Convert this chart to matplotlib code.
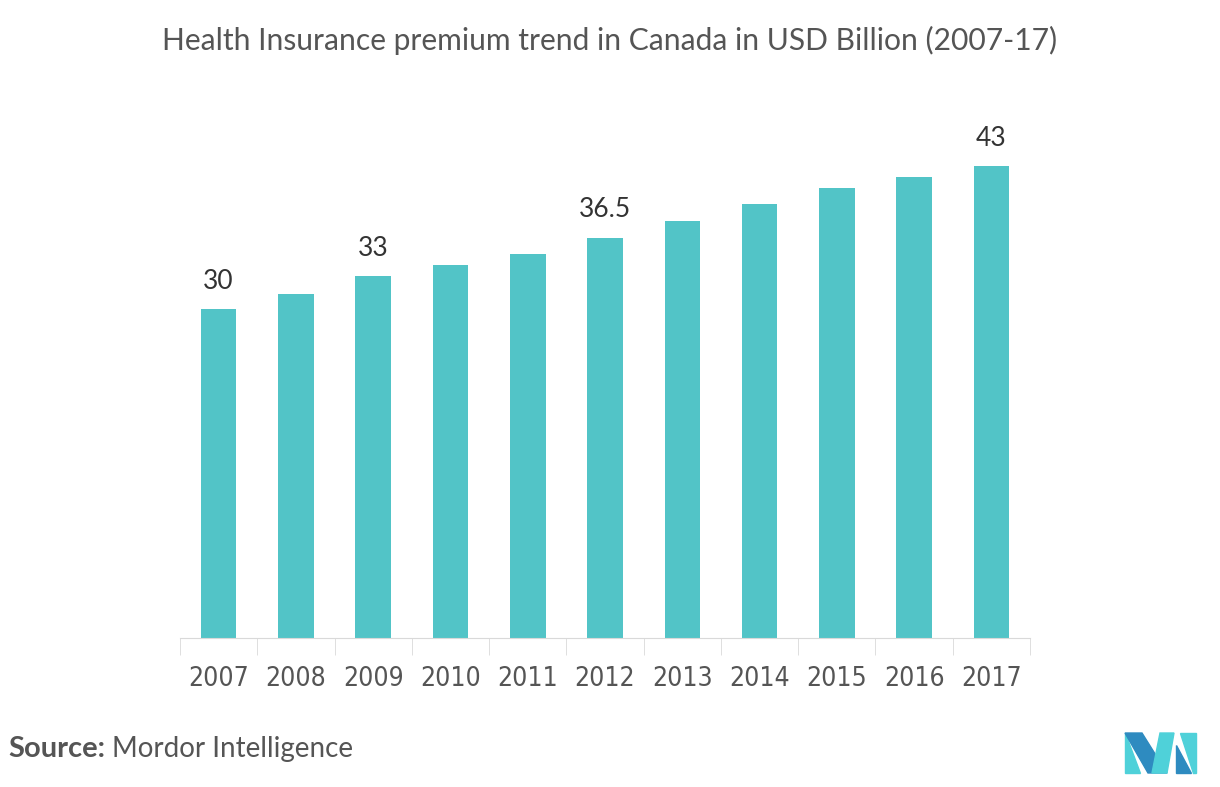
import matplotlib.pyplot as plt
from matplotlib.patches import Polygon

years = ["2007", "2008", "2009", "2010", "2011", "2012", "2013", "2014", "2015", "2016", "2017"]
premiums = [30, 31.4, 33, 34, 35, 36.5, 38, 39.6, 41, 42, 43]
shown_labels = {"2007": "30", "2009": "33", "2012": "36.5", "2017": "43"}

W, H = 1220, 787
fig = plt.figure(figsize=(W / 100, H / 100), dpi=100)
ax = fig.add_axes([180 / W, 1 - 638 / H, 850 / W, 538 / H])

x = range(len(years))
ax.bar(x, premiums, width=0.46, color="#52c4c7", zorder=2)
ax.set_xlim(-0.5, len(years) - 0.5)
ax.set_ylim(0, 538 / 10.97)

for i, (yr, v) in enumerate(zip(years, premiums)):
    if yr in shown_labels:
        ax.text(i, v + 1.4, shown_labels[yr], ha="center", va="bottom",
                fontsize=19, color="#333333", family=["Lato", "DejaVu Sans"])

for s in ["top", "right", "left"]:
    ax.spines[s].set_visible(False)
ax.spines["bottom"].set_color("#d9d9d9")
ax.set_yticks([])
ax.set_xticks(x)
ax.set_xticklabels(years, fontsize=19, color="#555555", family="DejaVu Sans",
                   fontstretch="condensed")
ax.tick_params(axis="x", length=0, pad=20)
# minor ticks at category boundaries
ax.set_xticks([i - 0.5 for i in range(len(years) + 1)], minor=True)
ax.tick_params(axis="x", which="minor", length=12, color="#d9d9d9")

fig.text(0.5, 1 - 40 / H, "Health Insurance premium trend in Canada in USD Billion (2007-17)",
         ha="center", va="center", fontsize=21.6, color="#555555", family=["Lato", "DejaVu Sans"])

src = fig.text(8 / W, 1 - 749 / H, "Source:", ha="left", va="center", fontsize=21,
               fontweight="bold", color="#555555", family=["Lato", "DejaVu Sans"])
fig.canvas.draw()
bb = src.get_window_extent()
fig.text((bb.x1 + 7) / W, 1 - 749 / H, "Mordor Intelligence", ha="left", va="center",
         fontsize=20, color="#555555", family=["Lato", "DejaVu Sans"])

# logo
def px(pts):
    return [(a / W, 1 - b / H) for a, b in pts]

logo = [
    ([(1125, 733), (1125, 773), (1140, 773)], "#4fd1d9"),
    ([(1125, 733), (1142, 733), (1167, 773), (1148, 773)], "#2e8bc0"),
    ([(1152, 773), (1167, 773), (1174, 733), (1160, 733)], "#4fd1d9"),
    ([(1176, 745), (1176, 773), (1191, 773)], "#2e8bc0"),
    ([(1180, 733), (1196, 733), (1196, 773), (1193, 773)], "#4fd1d9"),
]
for pts, c in logo:
    fig.patches.append(Polygon(px(pts), closed=True, color=c, transform=fig.transFigure))

fig.savefig("out.png", dpi=100)
